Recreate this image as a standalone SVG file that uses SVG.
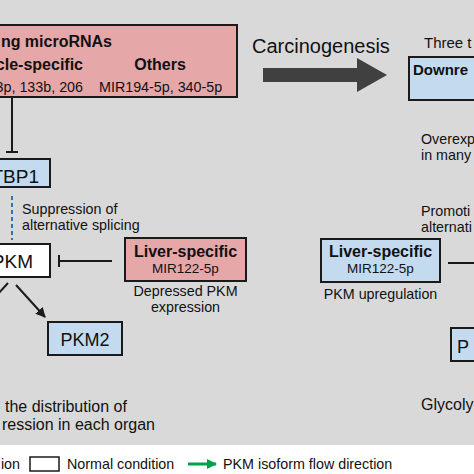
<svg xmlns="http://www.w3.org/2000/svg" width="474" height="474" viewBox="0 0 474 474">
<defs>
<style>
.t{font-family:"Liberation Sans",Arial,sans-serif;fill:#111}
.b{font-weight:bold}
.pink{fill:#e6a7a9;stroke:#1a1a1a;stroke-width:2}
.blue{fill:#c3daef;stroke:#1a1a1a;stroke-width:2}
.white{fill:#ffffff;stroke:#1a1a1a;stroke-width:2}
.ln{stroke:#1a1a1a;stroke-width:2;fill:none}
</style>
<marker id="ah" viewBox="0 0 10 10" refX="9" refY="5" markerWidth="5" markerHeight="5" orient="auto-start-reverse"><path d="M0,0 L10,5 L0,10 z" fill="#1a1a1a"/></marker>
<marker id="gh" viewBox="0 0 10 10" refX="9" refY="5" markerWidth="3.5" markerHeight="3.5" orient="auto"><path d="M0,0 L10,5 L0,10 z" fill="#00a14b"/></marker>
</defs>
<rect x="0" y="0" width="474" height="445" fill="#d9d9d9"/>
<rect x="0" y="445" width="474" height="29" fill="#ffffff"/>

<g id="top-mirnas">
<rect class="pink" x="-5" y="25" width="242" height="72"/>
<text class="t b" x="112" y="47" font-size="16" text-anchor="end">ng microRNAs</text>
<text class="t b" x="83" y="70" font-size="16" text-anchor="end">cle-specific</text>
<text class="t b" x="160" y="70" font-size="16" text-anchor="middle">Others</text>
<text class="t" x="83" y="92" font-size="14.3" text-anchor="end">3p, 133b, 206</text>
<text class="t" x="99" y="92" font-size="14.3">MIR194-5p, 340-5p</text>
</g>

<g id="carcinogenesis">
<text class="t" x="252" y="53" font-size="20">Carcinogenesis</text>
<polygon points="263,68 357,68 357,58 387,75 357,92 357,82 263,82" fill="#404040"/>
</g>

<g id="downreg">
<text class="t" x="424" y="48" font-size="15">Three t</text>
<rect class="blue" x="409" y="57" width="70" height="43"/>
<text class="t b" x="413" y="75" font-size="15">Downre</text>
</g>

<g id="overexp">
<text class="t" x="421" y="144" font-size="14.3">Overexp</text>
<text class="t" x="421" y="160" font-size="14.3">in many</text>
</g>

<g id="tbp1">
<rect class="blue" x="-5" y="159" width="55" height="28"/>
<text class="t" x="39" y="183" font-size="19" text-anchor="end">TBP1</text>
</g>

<g id="suppression">
<text class="t" x="22" y="214" font-size="14.3">Suppression of</text>
<text class="t" x="22" y="229.5" font-size="14.3">alternative splicing</text>
</g>

<g id="promotion">
<text class="t" x="421" y="216" font-size="14.3">Promoti</text>
<text class="t" x="421" y="232" font-size="14.3">alternati</text>
</g>

<g id="pkm">
<rect class="white" x="-5" y="244" width="55" height="33"/>
<text class="t" x="33" y="268" font-size="19" text-anchor="end">PKM</text>
</g>

<g id="liver-pink">
<rect class="pink" x="125" y="238" width="121" height="43"/>
<text class="t b" x="185.5" y="257" font-size="16" text-anchor="middle">Liver-specific</text>
<text class="t" x="185.5" y="273" font-size="13.5" text-anchor="middle">MIR122-5p</text>
<text class="t" x="185.5" y="296" font-size="14.3" text-anchor="middle">Depressed PKM</text>
<text class="t" x="185.5" y="311.5" font-size="14.3" text-anchor="middle">expression</text>
</g>

<g id="liver-blue">
<rect class="blue" x="321" y="239" width="119" height="43"/>
<text class="t b" x="380.5" y="257" font-size="16" text-anchor="middle">Liver-specific</text>
<text class="t" x="380.5" y="273" font-size="13.5" text-anchor="middle">MIR122-5p</text>
<text class="t" x="380.5" y="299" font-size="14.3" text-anchor="middle">PKM upregulation</text>
</g>

<g id="pkm2">
<rect class="blue" x="48" y="322" width="74" height="33"/>
<text class="t" x="85" y="346" font-size="18" text-anchor="middle">PKM2</text>
</g>

<g id="right-p">
<rect class="blue" x="451" y="328" width="30" height="33"/>
<text class="t" x="457" y="353" font-size="18">P</text>
</g>

<g id="glycoly">
<text class="t" x="421" y="410" font-size="16">Glycoly</text>
</g>

<g id="distribution">
<text class="t" x="5" y="412" font-size="16">the distribution of</text>
<text class="t" x="155" y="430" font-size="16" text-anchor="end">ression in each organ</text>
</g>

<g id="connectors">
<line class="ln" x1="12" y1="97" x2="12" y2="152"/>
<line class="ln" x1="6" y1="152" x2="18" y2="152"/>
<line x1="12" y1="196" x2="12" y2="240" stroke="#2e75b6" stroke-width="2" stroke-dasharray="4,3"/>
<line class="ln" x1="59" y1="261" x2="112" y2="261"/>
<line class="ln" x1="59" y1="255" x2="59" y2="267"/>
<line class="ln" x1="448" y1="263" x2="474" y2="263"/>
<line class="ln" x1="16" y1="285" x2="45" y2="317" marker-end="url(#ah)"/>
<line class="ln" x1="8" y1="283" x2="-2" y2="294"/>
</g>

<g id="legend">
<text class="t" x="20" y="469" font-size="14.3" text-anchor="end">ion</text>
<rect x="30" y="457" width="29" height="14" fill="#ffffff" stroke="#1a1a1a" stroke-width="1.5"/>
<text class="t" x="67" y="469" font-size="14.3">Normal condition</text>
<line x1="188" y1="464" x2="216" y2="464" stroke="#00a14b" stroke-width="3" marker-end="url(#gh)"/>
<text class="t" x="223" y="469" font-size="14.3">PKM isoform flow direction</text>
</g>
</svg>
